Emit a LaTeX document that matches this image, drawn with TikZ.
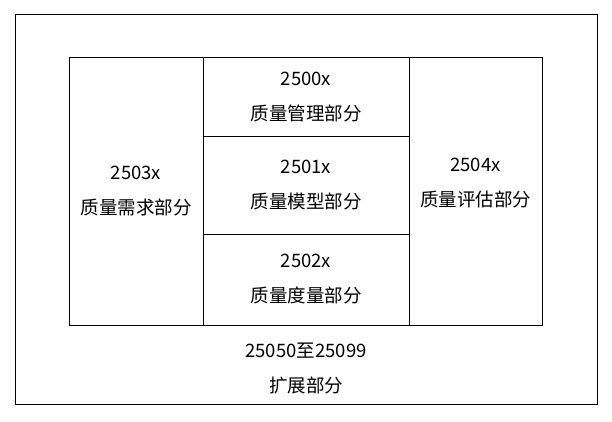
\documentclass[tikz,border=0pt]{standalone}
\usepackage{fontspec}
\setmainfont{Noto Sans CJK SC}
\usetikzlibrary{positioning}

\begin{document}
\begin{tikzpicture}[x=1pt,y=-1pt]
            \tikzstyle{part}=[rectangle,draw,line width=1pt,inner sep=0pt,align=center,font=\fontsize{18.5}{35}\selectfont]
            \tikzstyle{txt}=[align=center,font=\fontsize{18.5}{35}\selectfont]

            \useasboundingbox (0,0) rectangle (612,422);

            \node[part,minimum width=582pt,minimum height=389pt] (ext) at (306.5,209.5) {};   % outer frame
            \node[txt] (extlabel) at (306,369) {25050至25099\\扩展部分};

            \node[part,minimum width=134pt,minimum height=267pt] (req) at (136,191.5) {2503x\\质量需求部分};
            \node[part,minimum width=206pt,minimum height=79pt] (mgmt) at (306,97.5) {2500x\\质量管理部分};
            \node[part,minimum width=206pt,minimum height=97pt] (model) at (306,185.5) {2501x\\质量模型部分};
            \node[part,minimum width=206pt,minimum height=91pt] (meas) at (306,279.5) {2502x\\质量度量部分};
            \node[part,minimum width=133pt,minimum height=267pt] (eval) at (475.5,191.5) {};
            \node[txt] (evallabel) at (475.5,183) {2504x\\质量评估部分};
\end{tikzpicture}
\end{document}
